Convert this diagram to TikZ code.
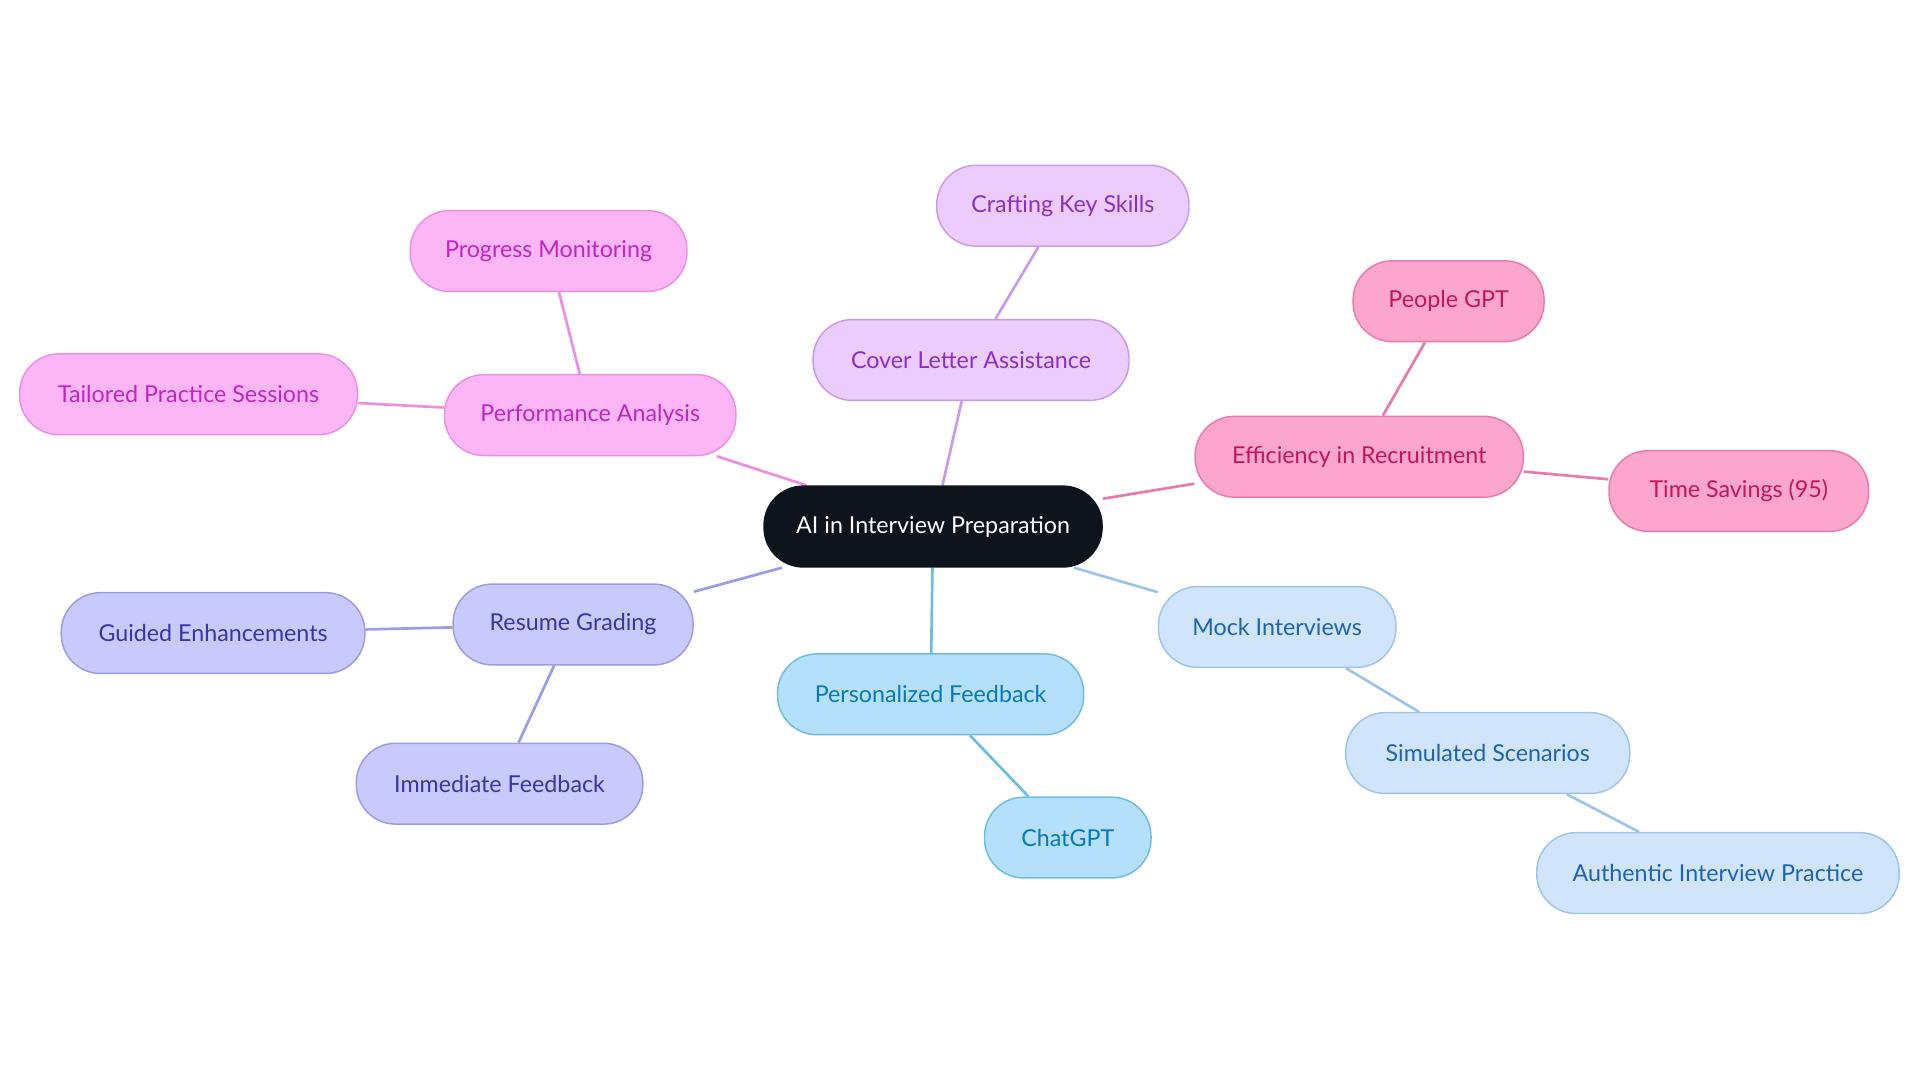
\documentclass[tikz,border=0pt]{standalone}
\usepackage{fontspec}
\setmainfont{Lato}
\usetikzlibrary{backgrounds}
\begin{document}
\begin{tikzpicture}[x=0.5pt,y=-0.5pt,
  nd/.style={rounded corners=16pt,minimum height=33pt,inner sep=0pt,font=\fontsize{9.5}{11}\selectfont,line width=0.6pt},
  pur/.style={nd,fill=purL,draw=purD,text=purT},
  pnk/.style={nd,fill=pnkL,draw=pnkD,text=pnkT},
  ind/.style={nd,fill=indL,draw=indD,text=indT},
  sky/.style={nd,fill=skyL,draw=skyD,text=skyT},
  blu/.style={nd,fill=bluL,draw=bluD,text=bluT},
  ros/.style={nd,fill=rosL,draw=rosD,text=rosT},
  ln/.style={line width=1.1pt}]
\definecolor{purL}{HTML}{EBCCFD}\definecolor{purD}{HTML}{C99BEF}\definecolor{purT}{HTML}{8B2FC9}
\definecolor{pnkL}{HTML}{FDB6F5}\definecolor{pnkD}{HTML}{EC8FE3}\definecolor{pnkT}{HTML}{C026C3}
\definecolor{indL}{HTML}{C8C9FD}\definecolor{indD}{HTML}{9C9BE6}\definecolor{indT}{HTML}{3B33A8}
\definecolor{skyL}{HTML}{B4E0FC}\definecolor{skyD}{HTML}{6CBDE6}\definecolor{skyT}{HTML}{0B78B6}
\definecolor{bluL}{HTML}{D0E4FC}\definecolor{bluD}{HTML}{9FC4EB}\definecolor{bluT}{HTML}{1E63B3}
\definecolor{rosL}{HTML}{FCA5CD}\definecolor{rosD}{HTML}{EA7AAE}\definecolor{rosT}{HTML}{C2185B}
\definecolor{ctr}{HTML}{0E141B}
\useasboundingbox (0,0) rectangle (1568,884);
\node[nd,fill=ctr,draw=ctr,text=white,minimum width=138pt] (c) at (762,430) {AI in Interview Preparation};
\node[pur,minimum width=129pt] (cl) at (793,294) {Cover Letter Assistance};
\node[pur,minimum width=103pt] (ck) at (868,168) {Crafting Key Skills};
\node[pnk,minimum width=119pt] (pa) at (482,339) {Performance Analysis};
\node[pnk,minimum width=113pt] (pm) at (448,205) {Progress Monitoring};
\node[pnk,minimum width=138pt] (tp) at (154,322) {Tailored Practice Sessions};
\node[ind,minimum width=98pt] (rg) at (468,510) {Resume Grading};
\node[ind,minimum width=124pt] (ge) at (174,517) {Guided Enhancements};
\node[ind,minimum width=117pt] (if) at (408,640) {Immediate Feedback};
\node[sky,minimum width=125pt] (pf) at (760,567) {Personalized Feedback};
\node[sky,minimum width=68pt] (cg) at (872,684) {ChatGPT};
\node[blu,minimum width=97pt] (mi) at (1043,512) {Mock Interviews};
\node[blu,minimum width=116pt] (ss) at (1215,615) {Simulated Scenarios};
\node[blu,minimum width=148pt] (ai) at (1403,713) {Authentic Interview Practice};
\node[ros,minimum width=134pt] (er) at (1110,373) {Efficiency in Recruitment};
\node[ros,minimum width=78pt] (pg) at (1183,246) {People GPT};
\node[ros,minimum width=106pt] (ts) at (1420,401) {Time Savings (95)};
\begin{scope}[on background layer]
\draw[ln,purD] (c) -- (cl); \draw[ln,purD] (cl) -- (ck);
\draw[ln,pnkD] (c) -- (pa); \draw[ln,pnkD] (pa) -- (pm); \draw[ln,pnkD] (pa) -- (tp);
\draw[ln,indD] (c) -- (rg); \draw[ln,indD] (rg) -- (ge); \draw[ln,indD] (rg) -- (if);
\draw[ln,skyD] (c) -- (pf); \draw[ln,skyD] (pf) -- (cg);
\draw[ln,bluD] (c) -- (mi); \draw[ln,bluD] (mi) -- (ss); \draw[ln,bluD] (ss) -- (ai);
\draw[ln,rosD] (c) -- (er); \draw[ln,rosD] (er) -- (pg); \draw[ln,rosD] (er) -- (ts);
\end{scope}
\end{tikzpicture}
\end{document}
